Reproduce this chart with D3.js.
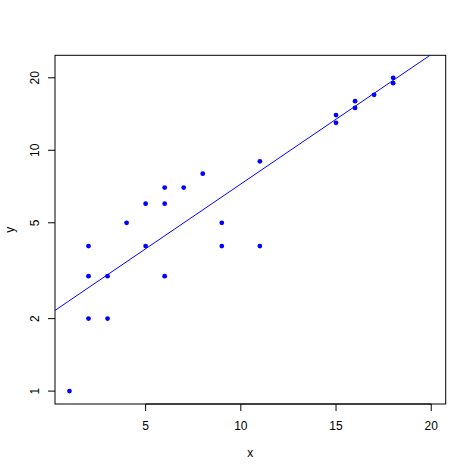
<!DOCTYPE html>
<html><head><meta charset="utf-8">
<script src="https://cdn.jsdelivr.net/npm/d3@7"></script>
<style>body{margin:0;background:#fff}svg{display:block}text{font-family:"Liberation Sans",Arial,sans-serif;}</style>
</head><body>
<script>
const xs = [1,2,2,2,3,3,4,5,5,6,6,6,7,8,9,9,11,11,15,15,16,16,17,18,18];
const ys = [1,2,3,4,2,3,5,4,6,3,6,7,7,8,4,5,4,9,13,14,15,16,17,19,20];
const xTicks = [5,10,15,20];
const yTicks = [1,2,5,10,20];
const fitIntercept = 0.322; // log10(y) = a + b*x
const fitSlope = 0.0538;

const W = 474, H = 474;
const svg = d3.select("body").append("svg").attr("width", W).attr("height", H);
const L = 55, R = 445.7, T = 55.3, B = 404;
const x = d3.scaleLinear().domain([0.24, 20.76]).range([L, R]);
const y = d3.scaleLog().domain([0.884, 24.8]).range([B, T]);

// box
svg.append("rect").attr("x", L).attr("y", T).attr("width", R - L).attr("height", B - T)
  .attr("fill", "none").attr("stroke", "#000").attr("stroke-width", 1);

// x axis
const gx = svg.append("g");
xTicks.forEach(t => {
  gx.append("line").attr("x1", x(t)).attr("x2", x(t)).attr("y1", B).attr("y2", B + 7).attr("stroke", "#000");
  gx.append("text").attr("x", x(t)).attr("y", 430).attr("text-anchor", "middle").attr("font-size", 12).text(t);
});
gx.append("line").attr("x1", x(5)).attr("x2", x(20)).attr("y1", B).attr("y2", B).attr("stroke", "#000");
// y axis
const gy = svg.append("g");
yTicks.forEach(t => {
  gy.append("line").attr("x1", L - 7).attr("x2", L).attr("y1", y(t)).attr("y2", y(t)).attr("stroke", "#000");
  gy.append("text").attr("transform", `translate(39,${y(t)}) rotate(-90)`).attr("text-anchor", "middle").attr("font-size", 12).text(t);
});
// labels
svg.append("text").attr("x", (L + R) / 2).attr("y", 457).attr("text-anchor", "middle").attr("font-size", 12).text("x");
svg.append("text").attr("transform", `translate(14,${(T + B) / 2}) rotate(-90)`).attr("text-anchor", "middle").attr("font-size", 12).text("y");

// clip for line
svg.append("clipPath").attr("id", "c").append("rect").attr("x", L).attr("y", T).attr("width", R - L).attr("height", B - T);
const x0 = 0.24, x1 = 20.76;
svg.append("line").attr("clip-path", "url(#c)")
  .attr("x1", x(x0)).attr("y1", y(Math.pow(10, fitIntercept + fitSlope * x0)))
  .attr("x2", x(x1)).attr("y2", y(Math.pow(10, fitIntercept + fitSlope * x1)))
  .attr("stroke", "#0000ff").attr("stroke-width", 1);

svg.selectAll("circle.p").data(xs.map((v, i) => [v, ys[i]])).enter().append("circle")
  .attr("cx", d => x(d[0])).attr("cy", d => y(d[1])).attr("r", 2.4).attr("fill", "#0000ff");
</script>
</body></html>
